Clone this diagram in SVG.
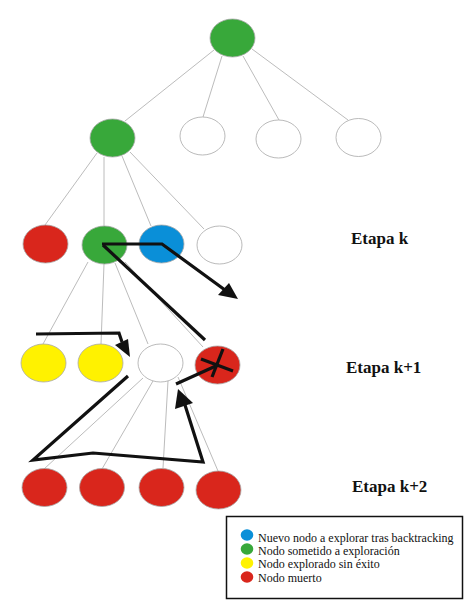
<svg xmlns="http://www.w3.org/2000/svg" width="464" height="600" viewBox="0 0 464 600">
<style>
.e{stroke:#bcbcbc;stroke-width:1;fill:none}
.n{stroke:#a8a8a8;stroke-width:0.8}
.g{fill:#38a83a}.r{fill:#d9261c}.b{fill:#0a8fd8}.y{fill:#fff200}.w{fill:#ffffff}
.a{stroke:#111;stroke-width:3.2;fill:none;stroke-linejoin:miter}
.h{fill:#111}
.lbl{font-family:"Liberation Serif",serif;font-weight:bold;font-size:17px;fill:#111}
.lg{font-family:"Liberation Serif",serif;font-size:12px;fill:#111}
</style>
<rect width="464" height="600" fill="#fff"/>
<g id="edges">
<line class="e" x1="214" y1="50" x2="125" y2="121"/>
<line class="e" x1="222" y1="56" x2="203" y2="117"/>
<line class="e" x1="243" y1="56" x2="279" y2="120"/>
<line class="e" x1="252" y1="49" x2="348" y2="120"/>
<line class="e" x1="97" y1="153" x2="45" y2="225"/>
<line class="e" x1="104" y1="157" x2="104" y2="226"/>
<line class="e" x1="122" y1="156" x2="151" y2="226"/>
<line class="e" x1="130" y1="152" x2="204" y2="229"/>
<line class="e" x1="88" y1="262" x2="43" y2="344"/>
<line class="e" x1="104" y1="264" x2="101" y2="344"/>
<line class="e" x1="115" y1="263" x2="148" y2="344"/>
<line class="e" x1="125" y1="262" x2="203" y2="347"/>
<line class="e" x1="143" y1="378" x2="44" y2="469"/>
<line class="e" x1="153" y1="381" x2="102" y2="469"/>
<line class="e" x1="168" y1="381" x2="163" y2="468"/>
<line class="e" x1="178" y1="377" x2="218" y2="471"/>
</g>
<g id="root"><ellipse class="n g" cx="232.5" cy="38" rx="22.5" ry="19"/></g>
<g id="n1a"><ellipse class="n g" cx="112.5" cy="138" rx="22.5" ry="19"/></g>
<g id="n1b"><ellipse class="n w" cx="202.5" cy="136" rx="22.5" ry="19"/></g>
<g id="n1c"><ellipse class="n w" cx="278.5" cy="139" rx="22.5" ry="19"/></g>
<g id="n1d"><ellipse class="n w" cx="358.5" cy="137.5" rx="22.5" ry="19"/></g>
<g id="n2a"><ellipse class="n r" cx="45.5" cy="244" rx="22.5" ry="19"/></g>
<g id="n2b"><ellipse class="n g" cx="104.5" cy="245" rx="22.5" ry="19"/></g>
<g id="n2c"><ellipse class="n b" cx="161.5" cy="244" rx="22.5" ry="19"/></g>
<g id="n2d"><ellipse class="n w" cx="219.5" cy="245" rx="22.5" ry="19"/></g>
<g id="n3a"><ellipse class="n y" cx="43.5" cy="363" rx="22.5" ry="19"/></g>
<g id="n3b"><ellipse class="n y" cx="100.5" cy="363" rx="22.5" ry="19"/></g>
<g id="n3c"><ellipse class="n w" cx="160.5" cy="363" rx="22.5" ry="19"/></g>
<g id="n3d"><ellipse class="n r" cx="217.5" cy="365" rx="22.5" ry="19"/></g>
<g id="n4a"><ellipse class="n r" cx="44.5" cy="487.5" rx="22.5" ry="19"/></g>
<g id="n4b"><ellipse class="n r" cx="102" cy="487.5" rx="22.5" ry="19"/></g>
<g id="n4c"><ellipse class="n r" cx="161.5" cy="487.5" rx="22.5" ry="19"/></g>
<g id="n4d"><ellipse class="n r" cx="218.5" cy="490" rx="22.5" ry="19"/></g>
<g id="arrows">
<polyline class="a" points="102,244 162,244 225,290"/>
<polygon class="h" points="238,299 218,295 229,283"/>
<line class="a" x1="103" y1="245" x2="205" y2="340"/>
<polyline class="a" points="36,334 119,333 122,342"/>
<polygon class="h" points="130,357 115,345 128,339"/>
<polyline class="a" points="128,376 33,460 93,453 203,462 185,405"/>
<polygon class="h" points="178,389 175,409 193,403"/>
<line class="a" x1="176" y1="384" x2="218" y2="365"/>
<line class="a" x1="201" y1="359" x2="233" y2="371"/>
<line class="a" x1="223" y1="349" x2="212" y2="377"/>
</g>
<g id="labels">
<text class="lbl" x="351" y="244">Etapa k</text>
<text class="lbl" x="346" y="373">Etapa k+1</text>
<text class="lbl" x="352" y="492">Etapa k+2</text>
</g>
<g id="legend">
<rect x="226.5" y="516.5" width="236" height="82" fill="#fff" stroke="#111" stroke-width="1.5"/>
<ellipse cx="247" cy="535" rx="6.3" ry="5.7" fill="#0a8fd8"/>
<ellipse cx="247" cy="549" rx="6.3" ry="5.7" fill="#38a83a"/>
<ellipse cx="247" cy="563" rx="6.3" ry="5.7" fill="#fff200"/>
<ellipse cx="247" cy="577" rx="6.3" ry="5.7" fill="#d9261c"/>
<text class="lg" x="258" y="542">Nuevo nodo a explorar tras backtracking</text>
<text class="lg" x="258" y="555">Nodo sometido a exploración</text>
<text class="lg" x="258" y="568">Nodo explorado sin éxito</text>
<text class="lg" x="258" y="582">Nodo muerto</text>
</g>
</svg>
